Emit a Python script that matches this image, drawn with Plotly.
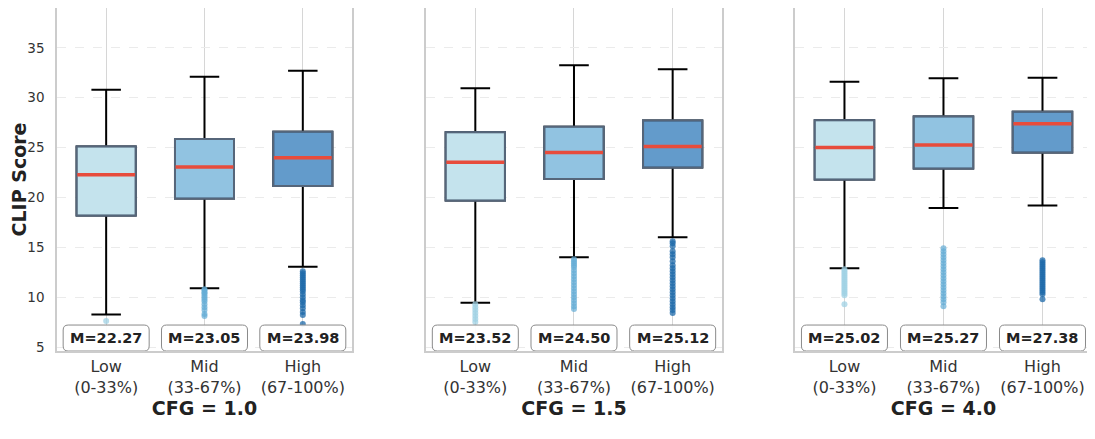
import plotly.graph_objects as go
from plotly.subplots import make_subplots

# ---------------- data ----------------
panels = ["CFG = 1.0", "CFG = 1.5", "CFG = 4.0"]
groups = ["Low<br>(0-33%)", "Mid<br>(33-67%)", "High<br>(67-100%)"]

medians = [[22.27, 23.05, 23.98], [23.52, 24.50, 25.12], [25.02, 25.27, 27.38]]
q1s = [[18.2, 19.9, 21.15], [19.7, 21.85, 23.0], [21.8, 22.9, 24.5]]
q3s = [[25.12, 25.87, 26.6], [26.55, 27.1, 27.72], [27.75, 28.12, 28.6]]
lower_w = [[8.25, 10.9, 13.05], [9.45, 14.0, 16.0], [12.9, 18.95, 19.2]]
upper_w = [[30.8, 32.1, 32.7], [30.95, 33.25, 32.85], [31.6, 31.95, 32.0]]

outliers = [
    [
        [7.6],
        [10.8, 10.7, 10.5, 10.4, 10.2, 10.0, 9.8, 9.6, 9.3, 9.0, 8.7, 8.3, 8.1],
        [12.6, 12.4, 12.2, 12.0, 11.8, 11.6, 11.4, 11.2, 11.0, 10.8, 10.6, 10.3,
         10.0, 9.7, 9.5, 9.2, 8.9, 8.5, 8.2, 7.3],
    ],
    [
        [9.3, 9.0, 8.7, 8.4, 8.1, 7.8, 7.5],
        [13.8, 13.6, 13.4, 13.2, 13.0, 12.7, 12.4, 12.1, 11.8, 11.5, 11.2, 10.9,
         10.6, 10.3, 10.0, 9.7, 9.4, 9.1, 8.8],
        [15.6, 15.4, 15.1, 14.6, 14.3, 14.0, 13.6, 13.2, 12.9, 12.6, 12.3, 12.0,
         11.7, 11.4, 11.1, 10.8, 10.5, 10.2, 9.9, 9.6, 9.3, 9.0, 8.7, 8.4],
    ],
    [
        [12.8, 12.6, 12.4, 12.2, 12.0, 11.8, 11.6, 11.4, 11.2, 11.0, 10.8, 10.6,
         10.4, 10.2, 9.3],
        [14.9, 14.6, 14.3, 14.0, 13.7, 13.4, 13.1, 12.8, 12.5, 12.2, 11.9, 11.6,
         11.3, 11.0, 10.7, 10.4, 10.1, 9.8, 9.5, 9.1],
        [13.7, 13.5, 13.3, 13.1, 12.9, 12.7, 12.5, 12.3, 12.1, 11.9, 11.7, 11.5,
         11.3, 11.1, 10.9, 10.7, 10.5, 10.3, 9.8],
    ],
]

y_ticks = [5, 10, 15, 20, 25, 30, 35]

# ---------------- styles ----------------
fills = ["rgba(173,216,230,0.72)", "rgba(107,174,214,0.74)", "rgba(33,113,181,0.70)"]
point_colors = ["rgba(160,210,228,0.75)", "rgba(100,172,214,0.7)", "rgba(30,105,170,0.75)"]
edge = "#56667a"
red = "#e74c3c"
FONT = "DejaVu Sans"
BOX_W = 0.6

fig = make_subplots(rows=1, cols=3, shared_yaxes=True, horizontal_spacing=0.0)

domains = [[0.0, 0.285], [0.3565, 0.6425], [0.713, 1.0]]

for p in range(3):
    col = p + 1
    for g in range(3):
        x = [g]
        # whiskers (black)
        fig.add_trace(go.Box(
            x=x, q1=[q1s[p][g]], median=[medians[p][g]], q3=[q3s[p][g]],
            lowerfence=[lower_w[p][g]], upperfence=[upper_w[p][g]],
            width=BOX_W, whiskerwidth=0.5, line=dict(color="black", width=2),
            fillcolor="rgba(0,0,0,0)", boxpoints=False, showlegend=False,
            hoverinfo="skip"), row=1, col=col)
        # box body
        fig.add_trace(go.Box(
            x=x, q1=[q1s[p][g]], median=[medians[p][g]], q3=[q3s[p][g]],
            lowerfence=[q1s[p][g]], upperfence=[q3s[p][g]],
            width=BOX_W, whiskerwidth=0, line=dict(color=edge, width=2),
            fillcolor="white", boxpoints=False, showlegend=False,
            hoverinfo="skip"), row=1, col=col)
        fig.add_trace(go.Box(
            x=x, q1=[q1s[p][g]], median=[medians[p][g]], q3=[q3s[p][g]],
            lowerfence=[q1s[p][g]], upperfence=[q3s[p][g]],
            width=BOX_W, whiskerwidth=0, line=dict(color=edge, width=2),
            fillcolor=fills[g], boxpoints=False, showlegend=False,
            hoverinfo="skip"), row=1, col=col)
        # median (red)
        m = medians[p][g]
        fig.add_trace(go.Box(
            x=x, q1=[m], median=[m], q3=[m], lowerfence=[m], upperfence=[m],
            width=BOX_W - 0.012, whiskerwidth=0, line=dict(color=red, width=3.5),
            fillcolor=red, boxpoints=False, showlegend=False,
            hoverinfo="skip"), row=1, col=col)
        # outliers
        fig.add_trace(go.Scatter(
            x=[g] * len(outliers[p][g]), y=outliers[p][g], mode="markers",
            marker=dict(size=6, color=point_colors[g], line=dict(width=0)),
            showlegend=False, hoverinfo="skip"), row=1, col=col)

        # median label with rounded box
        xref = "x" if p == 0 else f"x{col}"
        yref = "y" if p == 0 else f"y{col}"
        hw, hh, r = 43, 13, 5
        path = (f"M {-hw + r},{-hh} L {hw - r},{-hh} Q {hw},{-hh} {hw},{-hh + r} "
                f"L {hw},{hh - r} Q {hw},{hh} {hw - r},{hh} L {-hw + r},{hh} "
                f"Q {-hw},{hh} {-hw},{hh - r} L {-hw},{-hh + r} Q {-hw},{-hh} {-hw + r},{-hh} Z")
        fig.add_shape(type="path", path=path, xref=xref, yref=yref,
                      xsizemode="pixel", ysizemode="pixel", xanchor=g, yanchor=5.9,
                      fillcolor="rgba(255,255,255,0.92)",
                      line=dict(color="#8a8a8a", width=1), layer="above")
        fig.add_annotation(x=g, y=5.9, xref=xref, yref=yref, showarrow=False,
                           text=f"<b>M={m:.2f}</b>",
                           font=dict(family=FONT, size=14.5, color="#222222"))

    fig.update_xaxes(
        row=1, col=col, domain=domains[p], range=[-0.5, 2.5],
        tickmode="array", tickvals=[0, 1, 2], ticktext=groups,
        tickfont=dict(family=FONT, size=16, color="#333333"),
        showgrid=True, gridcolor="#d6d6d6", gridwidth=1,
        showline=True, linecolor="#cccccc", linewidth=1.5, mirror=True,
        ticks="", zeroline=False, automargin=False,
        title=dict(text=f"<b>{panels[p]}</b>",
                   font=dict(family=FONT, size=19, color="#222222"), standoff=4))
    fig.update_yaxes(
        row=1, col=col, range=[4.6, 39.0], tickvals=y_ticks,
        showgrid=True, gridcolor="#ebebeb", griddash="dash", gridwidth=1,
        showline=True, linecolor="#cccccc", linewidth=1.5, mirror=True,
        ticks="", zeroline=False, showticklabels=(p == 0), automargin=False,
        ticklabelstandoff=8,
        tickfont=dict(family=FONT, size=13.5, color="#333333"))

fig.update_yaxes(row=1, col=1,
                 title=dict(text="<b>CLIP Score</b>",
                            font=dict(family=FONT, size=19, color="#222222"),
                            standoff=12))

# the page body adds an 8px offset, so the figure is sized to fill the rest
fig.update_layout(
    width=1087, height=431, boxmode="overlay",
    margin=dict(l=49, r=3, t=0, b=88),
    paper_bgcolor="white", plot_bgcolor="white",
    font=dict(family=FONT),
)

fig.write_html("out.html")
